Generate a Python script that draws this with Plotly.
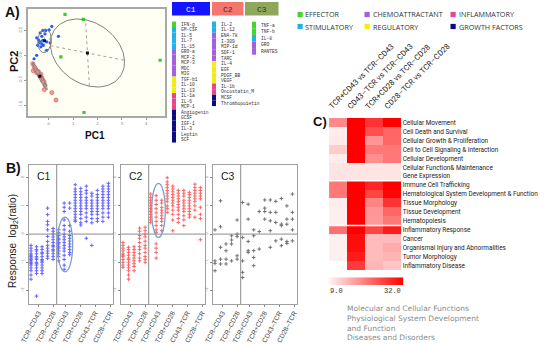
import numpy as np
import plotly.graph_objects as go

W, H = 550, 344
def fx(p): return p / W
def fy(p): return 1 - p / H

# ---------------- Panel A : PCA ----------------
pca_c1_x = [0.13, 0.02, -0.24, -0.35, -0.49, -0.28, -0.15, -0.24, -0.38, -0.32, -0.22, -0.08, 0.06, 0.40, -0.08, -0.49, -0.60, -0.42, -0.35, -0.28, -0.12, -0.45]
pca_c1_y = [0.58, 0.51, 0.50, 0.45, 0.35, 0.38, 0.43, 0.30, 0.25, 0.17, 0.20, 0.27, 0.25, 0.38, 0.10, 0.00, -0.07, 0.31, 0.27, 0.23, 0.50, 0.20]
pca_c2_x = [-0.65, -0.59, -0.63, -0.53, -0.49, -0.42, -0.38, -0.32, -0.28, -0.24, -0.19, -0.15, -0.18, 0.13, 0.30]
pca_c2_y = [-0.17, -0.23, -0.31, -0.29, -0.35, -0.33, -0.40, -0.38, -0.45, -0.50, -0.53, -0.60, -0.69, -0.75, -0.90]
pca_c3_x = [0.67, 1.42, 0.50, 4.57, 1.45]
pca_c3_y = [0.82, 0.72, -0.03, -0.10, -1.15]
ell_centers = [(-0.17, 0.29), (-0.36, -0.42), (1.59, 0.046)]
ell_axis_a = [(0.28, 0.05), (0.30, -0.27), (1.52, -0.147)]
ell_axis_b = [(-0.03, 0.23), (0.035, 0.045), (-0.08, 0.667)]

# ---------------- Legend lists ----------------
cat_names = ["EFFECTOR", "STIMULATORY", "CHEMOATTRACTANT", "REGULATORY", "INFLAMMATORY", "GROWTH FACTORS"]
cat_colors = {"E": "#44d62c", "S": "#1fb4e4", "C": "#a35fe0", "R": "#f0ee14", "I": "#e6468c", "G": "#0a0a82"}
cat_keys = ["E", "S", "C", "R", "I", "G"]
c1_genes = ["IFN-g", "GM-CSF", "IL-5", "IL-7", "IL-15", "GRO-a", "MCP-2", "MCP-3", "MDC", "MIG", "TGF-b1", "IL-10", "IL-13",
            "IL-1a", "IL-6", "MCP-1", "Angiogenin", "GCSF", "IGF-1", "IL-3", "Leptin", "SCF"]
c1_gcat = ["E", "S", "S", "S", "S", "C", "C", "C", "C", "C", "R", "R", "R", "I", "I", "I", "G", "G", "G", "G", "G", "G"]
c2_genes = ["IL-2", "IL-12", "ENA-78", "I-309", "MIP-1d", "SDF-1", "TARC", "IL-4", "EGF", "PDGF_BB", "VEGF", "IL-1b",
            "Oncostatin_M", "MCSF", "Thrombopoietin"]
c2_gcat = ["S", "S", "C", "C", "C", "C", "C", "R", "R", "R", "R", "I", "I", "G", "G"]
c3_genes = ["TNF-a", "TNF-b", "IL-8", "GRO", "RANTES"]
c3_gcat = ["E", "E", "S", "C", "C"]
cluster_names = ["C1", "C2", "C3"]
cluster_colors = ["#1414ff", "#f4766e", "#8fa75c"]

# ---------------- Panel B : responses ----------------
b_labels = ["TCR–CD43", "TCR–CD28", "TCR+CD43", "TCR+CD28", "CD43–TCR", "CD28–TCR"]
b_tickpos = [2.3, 5.0, 7.3, 9.9, 12.6, 15.3]
c1_cols = [
    [-0.40, -0.50, -0.60, -0.70, -0.75, -0.80, -0.85, -0.90, -0.95, -1.00, -1.05, -1.10, -1.20, -1.30, -1.45, -1.60],
    [-0.45, -0.55, -0.60, -0.70, -0.80, -0.85, -0.90, -1.00, -1.05, -1.10, -1.20, -1.30, -1.40, -2.20],
    [-0.45, -0.55, -0.65, -0.70, -0.80, -0.90, -0.95, -1.00, -1.10, -1.20, -1.30, -1.40],
    [0.92, 0.69, 0.45, 0.33, 0.15, -0.08, -0.26, -0.40, -0.50, -0.60, -0.68, -0.78, -0.86],
    [0.20, 0.10, 0.00, -0.10, -0.20, -0.30, -0.40, -0.45, -0.55, -0.60, -0.70, -0.80, -0.90],
    [0.15, 0.05, -0.05, -0.15, -0.20, -0.30, -0.35, -0.45, -0.50, -0.60, -0.70, -0.80, -0.95],
    [1.10, 0.95, 0.80, 0.50, 0.30, 0.15, 0.00, -0.10, -0.20, -0.30, -0.40, -0.50, -0.60, -0.75, -0.90, -1.10, -1.25],
    [1.10, 0.92, 0.30, 0.10, -0.05, -0.15, -0.25, -0.35, -0.45, -0.55, -0.65, -0.73],
    [1.75, 1.60, 1.50, 1.40, 1.30, 1.20, 1.10, 1.00, 0.90, 0.80, 0.70, 0.60, 0.50, 0.45],
    [1.62, 1.50, 1.40, 1.30, 1.20, 1.10, 1.00, 0.90, 0.80, 0.70, 0.55, 0.40, 0.32],
    [1.70, 1.55, 1.45, 1.30, 1.20, 1.10, 1.00, 0.90, 0.75, 0.60, 0.45, -0.15],
    [1.45, 1.35, 1.20, 1.10, 1.00, 0.90, 0.80, 0.70, 0.55, 0.40, -0.40],
    [1.55, 1.40, 1.30, 1.20, 1.10, 1.00, 0.90, 0.80, 0.70, 0.55, 0.45],
    [1.70, 1.60, 1.50, 1.40, 1.30, 1.20, 1.10, 1.00, 0.90, 0.75, 0.60, 0.45],
    [1.80, 1.70, 1.60, 1.50, 1.40, 1.30, 1.20, 1.10, 1.00, 0.90, 0.75, 0.60],
]
c2_cols = [
    [-0.30, -0.40, -0.50, -0.60, -0.70, -0.75, -0.80, -0.90, -1.00, -1.10, -1.18],
    [-0.47, -0.55, -0.65, -0.75, -0.85, -0.90, -1.00, -1.10, -1.20, -1.30, -1.45, -1.60],
    [-0.45, -0.55, -0.65, -0.75, -0.85, -0.95, -1.05, -1.15, -1.30],
    [0.21, 0.10, -0.05, -0.15, -0.30, -0.45, -0.55, -0.70, -0.85, -0.95],
    [0.24, 0.12, 0.00, -0.10, -0.25, -0.40, -0.50, -0.65, -0.80, -0.90, -1.00],
    [1.42, 1.30, 1.20, 1.10, 1.00, 0.90, 0.80, 0.70, 0.60, 0.50, 0.41],
    [1.36, 1.20, 1.05, 0.90, 0.75, 0.60, 0.45, 0.30, 0.15, 0.06, -0.35, -0.50, -0.65, -0.85],
    [1.20, 1.10, 0.95, 0.85, 0.75, 0.65, 0.55, 0.45, 0.30, 0.12],
    [2.00, 1.85, 1.75, 1.65, 1.55, 1.45, 1.35, 1.25, 1.15, 1.00, 0.90, 0.77],
    [1.70, 1.60, 1.50, 1.40, 1.30, 1.20, 1.10, 1.00, 0.85, 0.70, 0.50, 0.12],
    [1.55, 1.45, 1.35, 1.25, 1.15, 1.05, 0.95, 0.85, 0.70, 0.55, 0.41],
    [1.55, 1.45, 1.35, 1.20, 1.10, 1.00, 0.90, 0.80, 0.65, 0.50, 0.30],
    [1.48, 1.40, 1.30, 1.20, 1.10, 1.00, 0.90, 0.80, 0.70, 0.60],
    [1.77, 1.65, 1.55, 1.45, 1.35, 1.25, 1.15, 1.00, 0.85, 0.60],
    [1.65, 1.55, 1.45, 1.35, 1.25, 0.95, 0.70, 0.55, -0.20],
]
c3_cols = [
    [0.15, -0.95, -1.04, -1.30],
    [1.18, 0.26, -0.47, -0.89, -1.06],
    [-0.35, -0.59, -0.89, -1.06],
    [-0.06, -0.21, -0.35, -0.95],
    [0.50, 0.00, -0.09, -0.77, -0.89],
    [1.12, -0.12, -0.95, -1.36, -1.54],
    [1.06, 0.53, -0.26, -0.59, -0.65],
    [0.15, -0.06, -0.59, -0.83, -1.12],
    [0.80, 0.09, -0.53],
    [1.21, 0.92, 0.80, 0.53],
    [1.21, 0.77, 0.47, 0.12, -0.47],
    [1.16, 0.77, 0.41, -0.24],
    [1.26, 0.35, 0.30, -0.18, -0.41],
    [1.00, 0.53, 0.35, -0.26, -0.33],
    [1.42, 0.77, 0.53, 0.15, -0.24],
]
b_point_colors = ["#3030ff", "#ff3030", "#444444"]
b_ellipses = [(7.15, -0.37, 1.39, 0.97), (7.42, 0.84, 1.23, 0.96), None]
b_split = 5.65

# ---------------- Panel C : heatmap ----------------
hm_rows = ["Cellular Movement", "Cell Death and Survival", "Cellular Growth & Proliferation",
           "Cell to Cell Signaling & Interaction", "Cellular Development", "Cellular Function& Maintenance",
           "Gene Expression", "Immune Cell Trafficking", "Hematological System Development & Function",
           "Tissue Morphology", "Tissue Development", "Hematopoiesis", "Inflammatory Response", "Cancer",
           "Organismal Injury and Abnormalities", "Tumor Morphology", "Inflammatory Disease"]
hm_cols = ["TCR+CD43 vs TCR–CD43", "CD43–TCR vs TCR–CD43", "TCR+CD28 vs TCR–CD28", "CD28–TCR vs TCR–CD28"]
hm_c1 = [19.2, 9.8, 10.0, 12.8, 9.8, 10.5, 10.5, 20.8, 20.8, 9.8, 9.6, 9.6, 21.5, 9.4, 9.4, 9.4, None]
hm_c2 = [32, 32, 32, 32, 32, 10.5, 10.5, 32, 32, 32, 32, 32, 32, 30.8, 30.8, 29.5, 26.5]
hm_c3 = [27.2, 24.5, 18.0, 20.8, 18.5, 10.5, 10.5, 28.5, 25.6, 19.5, 18.0, 17.6, 25.6, 14.4, 14.4, 14.4, 14.8]
hm_c4 = [32, 22.4, 22.4, 20.8, 20.8, 10.5, 10.5, 32, 31.5, 27.2, 22.4, 20.8, 29.5, 14.4, 16.0, 15.0, 13.5]
hm_group_breaks = [6.5, 11.5]
hm_min, hm_max = 9.0, 32.0
hm_scale = [[0, "#fff4f4"], [1, "#ff0000"]]
footnote = ["Molecular and Cellular Functions", "Physiological System Development", "and Function", "Diseases and Disorders"]

fig = go.Figure()

# ---- Panel A traces ----
fig.add_trace(go.Scatter(x=pca_c1_x, y=pca_c1_y, mode="markers", xaxis="x", yaxis="y",
                         marker=dict(size=3.2, color="#1f5cff")))
fig.add_trace(go.Scatter(x=pca_c2_x, y=pca_c2_y, mode="markers", xaxis="x", yaxis="y",
                         marker=dict(size=4.2, color="#f29a9a", line=dict(color="#d25a5a", width=0.6))))
fig.add_trace(go.Scatter(x=pca_c3_x, y=pca_c3_y, mode="markers", xaxis="x", yaxis="y",
                         marker=dict(size=3.2, symbol="square", color="#36cc36")))
t = np.linspace(0, 2 * np.pi, 120)
for (cx, cy), (ax_, ay_), (bx_, by_) in zip(ell_centers, ell_axis_a, ell_axis_b):
    fig.add_trace(go.Scatter(x=cx + ax_ * np.cos(t) + bx_ * np.sin(t), y=cy + ay_ * np.cos(t) + by_ * np.sin(t),
                             mode="lines", xaxis="x", yaxis="y", line=dict(color="#808080", width=1)))
    for vx, vy in [(ax_, ay_), (bx_, by_)]:
        fig.add_trace(go.Scatter(x=[cx - vx, cx + vx], y=[cy - vy, cy + vy], mode="lines", xaxis="x", yaxis="y",
                                 line=dict(color="#8a8a8a", width=0.8, dash="dot")))
fig.add_trace(go.Scatter(x=[c[0] for c in ell_centers], y=[c[1] for c in ell_centers], mode="markers",
                         xaxis="x", yaxis="y", marker=dict(size=3, symbol="square", color="#111")))

# ---- Panel B traces ----
for k, cols in enumerate([c1_cols, c2_cols, c3_cols]):
    xs, ys = [], []
    for i, col in enumerate(cols):
        xs += [i + 1] * len(col)
        ys += col
    axn = str(k + 2)
    fig.add_trace(go.Scatter(x=xs, y=ys, mode="markers", xaxis="x" + axn, yaxis="y" + axn, opacity=0.75,
                             marker=dict(symbol="cross-thin", size=2.6, color=b_point_colors[k],
                                         line=dict(width=1, color=b_point_colors[k]))))

# ---- Panel C heatmap ----
z = [list(r) for r in zip(hm_c1, hm_c2, hm_c3, hm_c4)]
fig.add_trace(go.Heatmap(z=z, x=hm_cols, y=hm_rows, xaxis="x5", yaxis="y5", zmin=hm_min, zmax=hm_max,
                         colorscale=hm_scale, hoverongaps=False, showscale=False))
# colour key drawn as a gradient strip
key_vals = np.linspace(hm_min, hm_max, 60)
fig.add_trace(go.Heatmap(z=[list(key_vals)], x=list(key_vals), xaxis="x6", yaxis="y6", zmin=hm_min, zmax=hm_max,
                         colorscale=hm_scale, showscale=False))

axis_common = dict(showgrid=False, zeroline=False, showline=True, mirror=True, automargin=False)
layout = dict(width=W, height=H, margin=dict(l=0, r=0, t=0, b=0, autoexpand=False), paper_bgcolor="white",
              plot_bgcolor="white", showlegend=False, font=dict(family="Liberation Sans", color="#222"))
layout["xaxis"] = dict(axis_common, domain=[fx(27.7), fx(165)], range=[-0.86, 4.77], anchor="y",
                       linecolor="#a8a8a8", linewidth=1.5, ticks="outside", ticklen=2, tickcolor="#999",
                       tickvals=[0, 1, 2, 3, 4], tickfont=dict(size=4, color="#777"))
layout["yaxis"] = dict(axis_common, domain=[fy(116), fy(9)], range=[-1.22, 0.93], anchor="x",
                       linecolor="#a8a8a8", linewidth=1.5, ticks="outside", ticklen=2, tickcolor="#999",
                       tickvals=[-1, -0.5, 0, 0.5], ticktext=["-1.0", "-0.5", "0.0", "0.5"], tickangle=-90,
                       tickfont=dict(size=4, color="#777"))
b_dom = [(29, 113), (121, 205), (213, 297)]
for k, (l, r) in enumerate(b_dom):
    n = str(k + 2)
    layout["xaxis" + n] = dict(axis_common, domain=[fx(l), fx(r)], range=[0.64, 15.83], anchor="y" + n,
                               linecolor="#a0a0a0", linewidth=1, ticks="outside", ticklen=1.5, tickcolor="#888",
                               tickvals=b_tickpos, ticktext=b_labels, tickangle=-62,
                               tickfont=dict(family="Liberation Sans", size=6.7, color="#444"))
    layout["yaxis" + n] = dict(axis_common, domain=[fy(304), fy(165)], range=[-2.48, 2.45], anchor="x" + n,
                               linecolor="#a0a0a0", linewidth=1, ticks="outside", ticklen=2, tickcolor="#888",
                               tickvals=[-2, -1, 0, 1, 2], tickangle=-90, tickfont=dict(size=4, color="#888"))
layout["xaxis5"] = dict(domain=[fx(328.3), fx(401.7)], anchor="y5", showticklabels=False, ticks="",
                        showgrid=False, zeroline=False, showline=False, automargin=False)
layout["yaxis5"] = dict(domain=[fy(270.3), fy(118)], anchor="x5", autorange="reversed", side="right", ticks="",
                        showgrid=False, zeroline=False, showline=False, automargin=False,
                        tickfont=dict(family="Roboto", size=6.4, color="#222"))
layout["xaxis6"] = dict(domain=[fx(328.3), fx(403.3)], anchor="y6", visible=False)
layout["yaxis6"] = dict(domain=[fy(285), fy(277.3)], anchor="x6", visible=False)

shapes = []
annots = []
def ann(text, x, y, size=7, color="#222", xa="left", ya="middle", family="Liberation Sans", angle=0, align="left"):
    annots.append(dict(text=text, x=fx(x), y=fy(y), xref="paper", yref="paper", showarrow=False, xanchor=xa,
                       yanchor=ya, textangle=angle, align=align, font=dict(size=size, color=color, family=family)))
def rect(x0, y0, x1, y1, color, layer="above"):
    shapes.append(dict(type="rect", xref="paper", yref="paper", x0=fx(x0), x1=fx(x1), y0=fy(y1), y1=fy(y0),
                       fillcolor=color, line=dict(width=0), layer=layer))

# panel A background
shapes.append(dict(type="rect", xref="x domain", yref="y domain", x0=0, x1=1, y0=0, y1=1,
                   fillcolor="#fffff3", line=dict(width=0), layer="below"))
ann("<b>A)</b>", 3, 12, size=14, color="#111")
ann("<b>PC2</b>", 14, 62, size=11, color="#111", xa="center", angle=-90)
ann("<b>PC1</b>", 95, 135, size=10, color="#111", xa="center")

# cluster headers + gene lists
box_x = [(172, 210), (212, 243.5), (245, 278.5)]
for (x0, x1), nm, colr in zip(box_x, cluster_names, cluster_colors):
    rect(x0, 2, x1, 15.5, colr)
    ann(nm, (x0 + x1) / 2, 9, size=8, color="white" if nm == "C1" else "#333", xa="center", family="Liberation Mono")
lists = [(c1_genes, c1_gcat, 172, 24.3, 5.5), (c2_genes, c2_gcat, 212, 24.3, 5.64), (c3_genes, c3_gcat, 252, 25, 6.6)]
for genes, cats, bx, y0, dy in lists:
    for i, (g, c) in enumerate(zip(genes, cats)):
        yy = y0 + i * dy
        rect(bx, yy - dy / 2, bx + 4, yy + dy / 2, cat_colors[c])
        ann(g, bx + 7, yy, size=4.6, color="#333", family="Liberation Mono")

# category legend
leg_pos = [(297.5, 14.5), (297.5, 26.5), (364.5, 14.5), (364.5, 26.5), (450.5, 14.5), (450.5, 26.5)]
for (lx, ly), nm, key in zip(leg_pos, cat_names, cat_keys):
    rect(lx, ly - 2.6, lx + 5.2, ly + 2.6, cat_colors[key])
    ann(nm, lx + 6, ly, size=7.2, color="#333", family="Open Sans")

# panel B decorations
ann("<b>B)</b>", 4, 168, size=14, color="#111")
ann("Response  log<sub>2</sub>(ratio)", 13, 241, size=10, color="#222", xa="center", angle=-90)
for k, (l, r) in enumerate(b_dom):
    n = str(k + 2)
    ann(cluster_names[k], l + 6, 175.5, size=10.5, color="#222")
    shapes.append(dict(type="line", xref="x" + n, yref="y" + n + " domain", x0=b_split, x1=b_split, y0=0, y1=1,
                       line=dict(color="#8c8c8c", width=1)))
    shapes.append(dict(type="line", xref="x" + n + " domain", yref="y" + n, x0=0, x1=1, y0=0, y1=0,
                       line=dict(color="#8c8c8c", width=1)))
    e = b_ellipses[k]
    if e:
        cx, cy, rx, ry = e
        shapes.append(dict(type="circle", xref="x" + n, yref="y" + n, x0=cx - rx, x1=cx + rx, y0=cy - ry, y1=cy + ry,
                           line=dict(color="#7a9fcf", width=1.3)))

# panel C decorations
ann("<b>C)</b>", 311, 122, size=13, color="#111")
for gb in hm_group_breaks:
    shapes.append(dict(type="line", xref="x5", yref="y5", x0=-0.5, x1=3.5, y0=gb, y1=gb,
                       line=dict(color="white", width=1.6)))
cw = (401.7 - 328.3) / len(hm_cols)
for i, c in enumerate(hm_cols):
    cxp = 328.3 + cw * (i + 0.5)
    ann(c, cxp - 13, 114, size=7.8, color="#222", xa="left", ya="bottom", family="Roboto", angle=-45)
ann("9.0", 328.3, 291, size=7, color="#333", family="Liberation Mono")
ann("32.0", 403.3, 291, size=7, color="#333", xa="right", family="Liberation Mono")
ann("<br>".join(footnote), 345, 302, size=7.5, color="#8c8c8c", ya="top", family="DejaVu Sans")

layout["shapes"] = shapes
layout["annotations"] = annots
fig.update_layout(**layout)
fig.write_html("out.html", config={"displayModeBar": False},
               post_script="document.body.style.margin='0px';document.body.style.overflow='hidden';")
